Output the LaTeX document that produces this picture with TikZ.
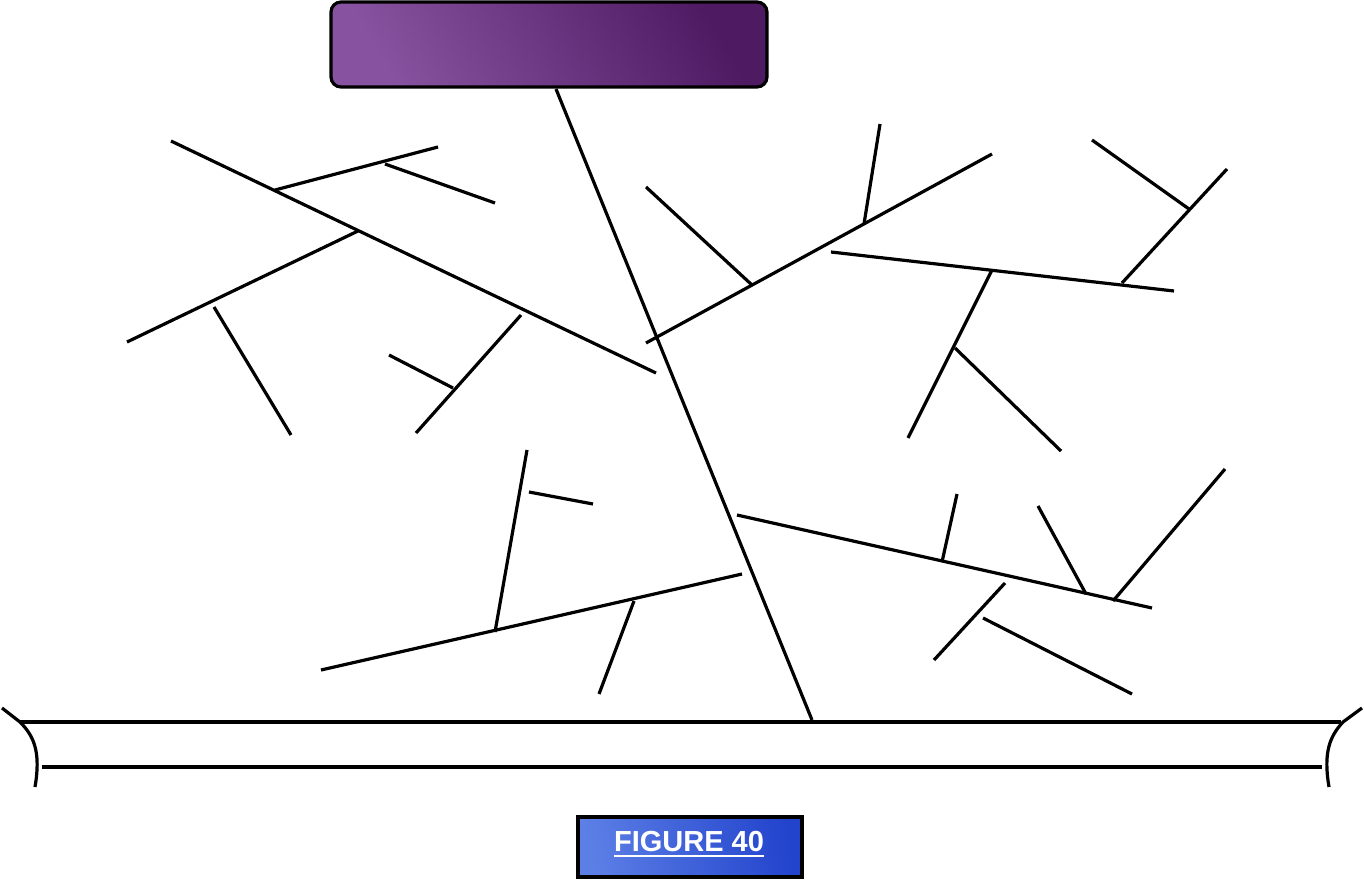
\documentclass[tikz,border=0pt]{standalone}
\usepackage{fontspec}
\setmainfont{Liberation Sans}
\begin{document}
\begin{tikzpicture}[x=1pt,y=-1pt,
  bone/.style={line width=3.2pt,black,line cap=butt},
  headbox/.style={draw=black,line width=3.2pt,rounded corners=10pt,minimum width=436pt,minimum height=85pt,inner sep=0pt,
     shading=axis,left color=purpleA,right color=purpleB,shading angle=120},
  figbox/.style={draw=black,line width=4.5pt,minimum width=224pt,minimum height=60pt,inner sep=0pt,
     shading=axis,left color=blueA,right color=blueB,shading angle=100},
  figtext/.style={text=white,font=\bfseries\fontsize{29}{32}\selectfont,inner sep=0pt}]
\definecolor{purpleA}{HTML}{8753A0}
\definecolor{purpleB}{HTML}{4E1A62}
\definecolor{blueA}{HTML}{5C7FE6}
\definecolor{blueB}{HTML}{2243CC}
\useasboundingbox (0,0) rectangle (1364,880);
\fill[white] (0,0) rectangle (1364,880);

% head box
\node[headbox] (head) at (549,44.5) {};
% figure label
\node[figbox] (fig) at (690,847) {};
\node[figtext,anchor=base] (figlabel) at (689,851) {FIGURE 40};
\draw[white,line width=2.6pt] ([yshift=-5pt]figlabel.base west) -- ([yshift=-5pt]figlabel.base east);

% coordinates
\coordinate (t0) at (556,89);
\coordinate (t1) at (812,720);

\coordinate (a0) at (171,141); \coordinate (a1) at (656,373);
\coordinate (a2) at (275,190); \coordinate (a3) at (438,147);
\coordinate (a4) at (385,164); \coordinate (a5) at (495,203);
\coordinate (b0) at (358,231); \coordinate (b1) at (127,342);
\coordinate (b2) at (214,307); \coordinate (b3) at (291,435);
\coordinate (c0) at (521,315); \coordinate (c1) at (416,433);
\coordinate (c2) at (389,355); \coordinate (c3) at (453,388);

\coordinate (d0) at (646,343); \coordinate (d1) at (992,154);
\coordinate (d2) at (646,187); \coordinate (d3) at (752,285);
\coordinate (d4) at (880,124); \coordinate (d5) at (864,224);
\coordinate (e0) at (831,252); \coordinate (e1) at (1174,291);
\coordinate (e2) at (1092,140); \coordinate (e3) at (1189,209);
\coordinate (e4) at (1227,169); \coordinate (e5) at (1122,283);
\coordinate (f0) at (992,270); \coordinate (f1) at (908,438);
\coordinate (f2) at (955,348); \coordinate (f3) at (1061,451);

\coordinate (g0) at (321,670); \coordinate (g1) at (742,574);
\coordinate (g2) at (527,450); \coordinate (g3) at (495,632);
\coordinate (g4) at (529,492); \coordinate (g5) at (593,504);
\coordinate (g6) at (634,601); \coordinate (g7) at (599,694);

\coordinate (h0) at (737,515); \coordinate (h1) at (1152,608);
\coordinate (h2) at (957,494); \coordinate (h3) at (942,562);
\coordinate (h4) at (1038,506); \coordinate (h5) at (1086,594);
\coordinate (h6) at (1225,469); \coordinate (h7) at (1113,601);
\coordinate (h8) at (1005,583); \coordinate (h9) at (934,660);
\coordinate (h10) at (983,618); \coordinate (h11) at (1132,694);

\coordinate (p0) at (20,722); \coordinate (p1) at (1341,722);
\coordinate (q0) at (42,767); \coordinate (q1) at (1322,767);
\coordinate (l0) at (2,708); \coordinate (l1) at (35,787);
\coordinate (r0) at (1362,708); \coordinate (r1) at (1329,787);

\draw[bone] (t0) -- (t1);
\foreach \u/\v in {a0/a1,a2/a3,a4/a5,b0/b1,b2/b3,c0/c1,c2/c3,
                   d0/d1,d2/d3,d4/d5,e0/e1,e2/e3,e4/e5,f0/f1,f2/f3,
                   g0/g1,g2/g3,g4/g5,g6/g7,
                   h0/h1,h2/h3,h4/h5,h6/h7,h8/h9,h10/h11,
                   p0/p1,q0/q1}
  \draw[bone] (\u) -- (\v);
\draw[bone] (l0) -- (20,722) .. controls (34,736) and (41,752) .. (l1);
\draw[bone] (r0) -- (1343,722) .. controls (1330,736) and (1323,752) .. (r1);
\end{tikzpicture}
\end{document}
